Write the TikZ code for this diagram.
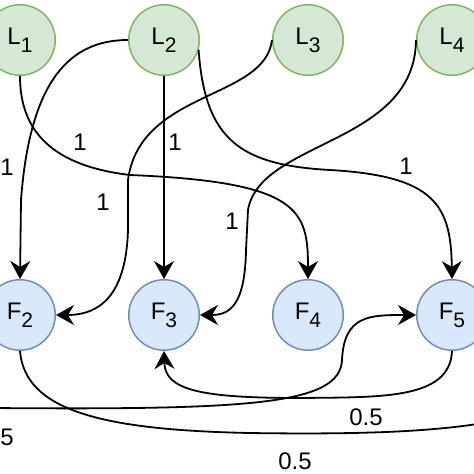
\documentclass[tikz,border=0pt]{standalone}
\usepackage{fontspec}
\setmainfont{Liberation Sans}
\usetikzlibrary{positioning, arrows.meta}

\definecolor{lfill}{HTML}{D5E8D4}
\definecolor{ldraw}{HTML}{82B366}
\definecolor{ffill}{HTML}{DAE8FC}
\definecolor{fdraw}{HTML}{6C8EBF}
\newcommand{\idx}[1]{\raisebox{-8pt}{\fontsize{21}{21}\selectfont #1}}

\begin{document}
\begin{tikzpicture}[
  x=1pt, y=-1pt,
  node distance=72pt,
  font=\fontsize{24}{28}\selectfont,
  lnode/.style={circle, draw=ldraw, fill=lfill, line width=1.5pt, minimum size=70.5pt, inner sep=0pt},
  fnode/.style={circle, draw=fdraw, fill=ffill, line width=1.5pt, minimum size=70.5pt, inner sep=0pt},
  link/.style={-{Stealth[length=18pt, width=20pt, inset=6pt]}, line width=1.8pt},
  wt/.style={inner sep=0pt}]

  \clip (0,0) rectangle (474,474);

  \node[lnode] (L1) at (20,40) {L\idx{1}};
  \node[lnode, right=of L1] (L2) {L\idx{2}};
  \node[lnode, right=of L2] (L3) {L\idx{3}};
  \node[lnode, right=of L3] (L4) {L\idx{4}};

  \node[fnode, below=203pt of L1] (F2) {F\idx{2}};
  \node[fnode, right=of F2] (F3) {F\idx{3}};
  \node[fnode, right=of F3] (F4) {F\idx{4}};
  \node[fnode, right=of F4] (F5) {F\idx{5}};

  \coordinate (in0) at (-10,408);
  \coordinate (out0) at (484,423);

  % L -> F
  \draw[link] (L1.south) .. controls (20,125) and (45,165) .. (130,175)
    .. controls (300,182) and (308,210) .. (F4.north);
  \draw[link] (L2.west) .. controls (70,40) and (30,80) .. (21,200) -- (F2.north);
  \draw[link] (L2.south) -- (F3.north);
  \draw[link] (L2.-16) .. controls (205,140) and (240,165) .. (330,170)
    .. controls (435,176) and (451,205) .. (F5.north);
  \draw[link] (L3.west) .. controls (265,100) and (140,90) .. (128,180) -- (128,230)
    .. controls (126,295) and (100,315) .. (F2.east);
  \draw[link] (L4.west) .. controls (415,145) and (260,140) .. (248,210) -- (246,250)
    .. controls (245,305) and (230,315) .. (F3.east);

  % F -> F
  \draw[link] (in0) .. controls (250,410) and (340,405) .. (342,360)
    .. controls (344,315) and (370,315) .. (F5.west);
  \draw[link] (F5.south) .. controls (450,400) and (380,397) .. (300,398)
    .. controls (200,398) and (165,390) .. (F3.south);
  \draw[line width=1.8pt] (F2.south) .. controls (25,410) and (100,430) .. (250,433)
    .. controls (380,435) and (440,430) .. (out0);

  % weights
  \node[wt] (w14) at (80,142) {1};
  \node[wt] (w22) at (7,167) {1};
  \node[wt] (w23) at (175,142) {1};
  \node[wt] (w25) at (406,166) {1};
  \node[wt] (w32) at (103,202) {1};
  \node[wt] (w43) at (232,221) {1};
  \node[wt] (w05) at (-3,437) {0.5};
  \node[wt] (w53) at (366,417) {0.5};
  \node[wt] (w20) at (295,461) {0.5};
\end{tikzpicture}
\end{document}
